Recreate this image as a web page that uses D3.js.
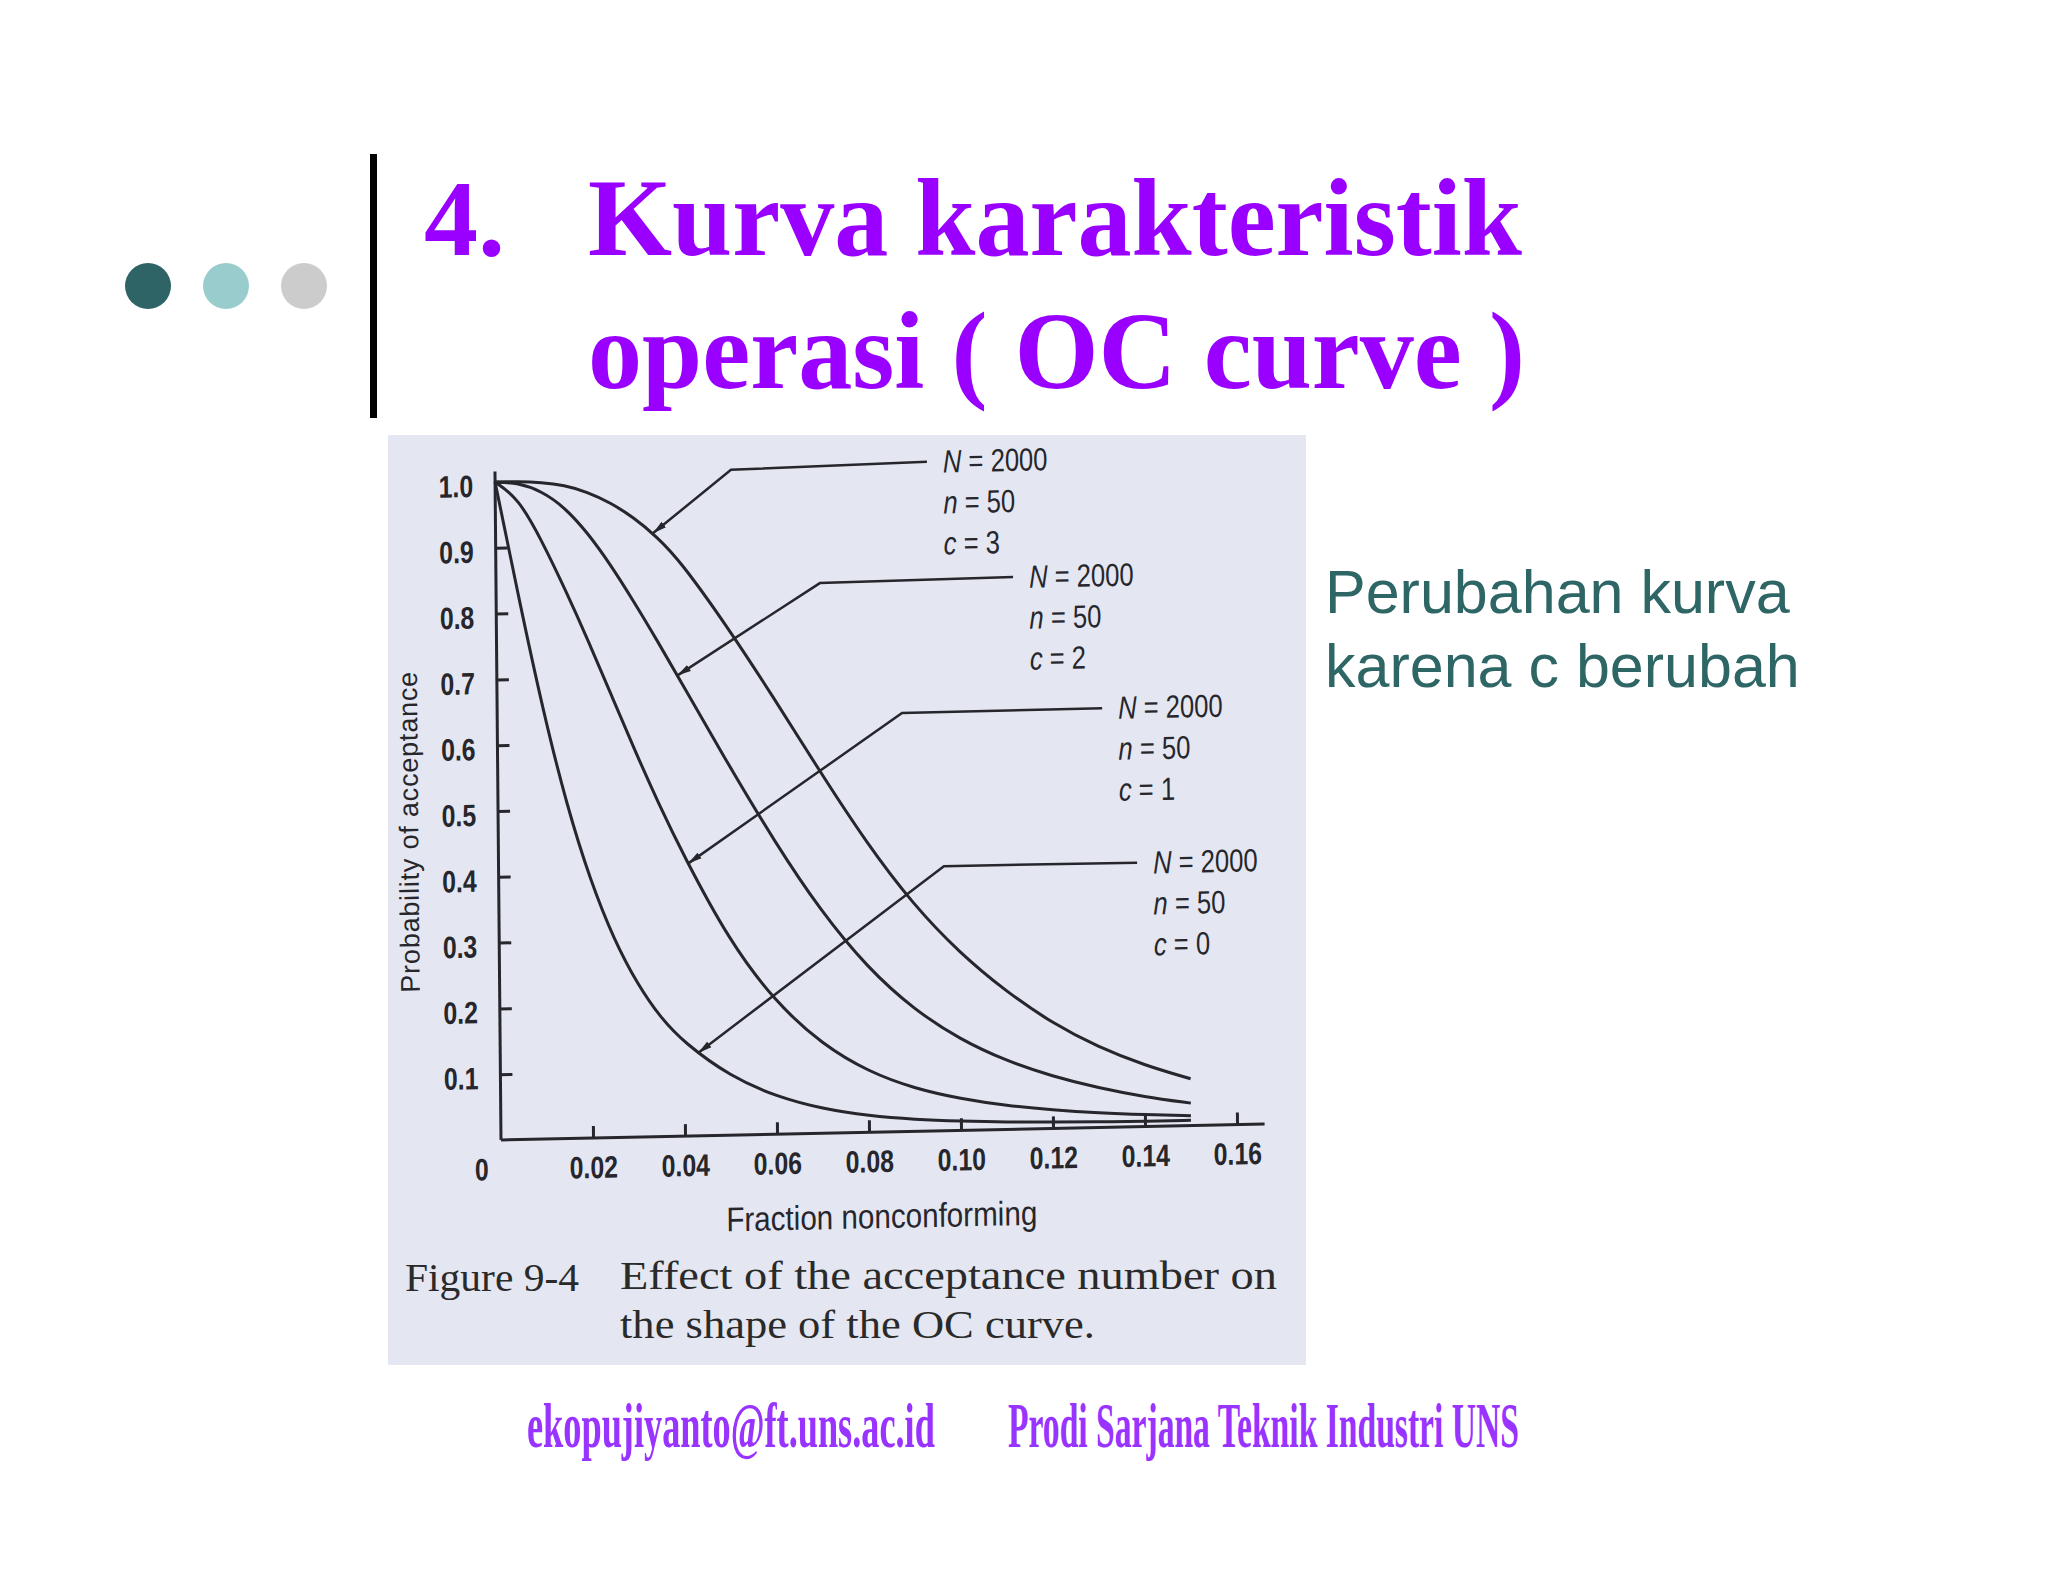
<!DOCTYPE html>
<html>
<head>
<meta charset="utf-8">
<title>Kurva karakteristik operasi</title>
<script src="https://d3js.org/d3.v7.min.js"></script>
<style>
  body { margin: 0; background: #fff; }
</style>
</head>
<body>
<script>
// fraction nonconforming where the curves were read
var pValues = [0, 0.005, 0.01, 0.015, 0.02, 0.025, 0.03, 0.035, 0.04, 0.05, 0.06, 0.07, 0.08, 0.09, 0.10, 0.11, 0.12, 0.13, 0.14, 0.15];
// probability of acceptance, N = 2000, n = 50
var paC0 = [1.0, 0.82, 0.65, 0.505, 0.39, 0.30, 0.232, 0.18, 0.142, 0.089, 0.057, 0.037, 0.025, 0.018, 0.014, 0.011, 0.0095, 0.0085, 0.008, 0.008];
var paC1 = [1.0, 0.975, 0.91, 0.835, 0.755, 0.67, 0.585, 0.505, 0.43, 0.295, 0.20, 0.135, 0.092, 0.065, 0.048, 0.036, 0.028, 0.022, 0.018, 0.015];
var paC2 = [1.0, 0.998, 0.985, 0.96, 0.92, 0.87, 0.813, 0.753, 0.691, 0.565, 0.445, 0.337, 0.25, 0.185, 0.138, 0.104, 0.079, 0.06, 0.045, 0.034];
var paC3 = [1.0, 1.0, 0.998, 0.993, 0.982, 0.965, 0.942, 0.912, 0.875, 0.775, 0.665, 0.55, 0.44, 0.345, 0.27, 0.21, 0.16, 0.122, 0.093, 0.071];

var acceptNumbers = ["0", "1", "2", "3"];
var lotSize = "2000";
var sampleSize = "50";

var xTicks = [0, 0.02, 0.04, 0.06, 0.08, 0.10, 0.12, 0.14, 0.16];
var yTicks = [0.1, 0.2, 0.3, 0.4, 0.5, 0.6, 0.7, 0.8, 0.9, 1.0];

// label leaders (data units): arrow tip on curve, elbow, end of horizontal part
var leaderTips   = [[0.0430, 0.126], [0.0412, 0.414], [0.0392, 0.700], [0.0342, 0.917]];
var leaderElbows = [[0.0968, 0.402], [0.0880, 0.636], [0.0704, 0.836], [0.0513, 1.011]];
var leaderEnds   = [[0.1388, 0.401], [0.1315, 0.637], [0.1124, 0.839], [0.0939, 1.017]];

var W = 2048, H = 1582;
var ink = "#26262c";
var sans = "'Liberation Sans', Arial, sans-serif";
var serif = "'Liberation Serif', 'Times New Roman', serif";

var svg = d3.select("body").append("svg").attr("width", W).attr("height", H);

// write a text and squeeze it horizontally to a given width
function fitText(parent, str, x, y, width, font, size, fill, weight, anchor) {
  var t = parent.append("text").text(str)
    .attr("font-family", font).attr("font-size", size).attr("fill", fill)
    .attr("font-weight", weight || "normal").attr("text-anchor", anchor || "start");
  var s = width / t.node().getComputedTextLength();
  t.attr("transform", "translate(" + x + "," + y + ") scale(" + s + ",1)");
  return t;
}

// ---- slide decoration ----
var dotColors = ["#2f6466", "#99cccc", "#cccccc"];
svg.selectAll("circle.dot").data(dotColors).enter().append("circle")
  .attr("class", "dot")
  .attr("cx", function(d, i) { return 148 + i * 78; })
  .attr("cy", 286).attr("r", 23)
  .attr("fill", function(d) { return d; });

svg.append("rect").attr("x", 370).attr("y", 154).attr("width", 7).attr("height", 264).attr("fill", "#000");

svg.append("text").attr("x", 424).attr("y", 255).text("4.")
  .attr("font-family", serif).attr("font-weight", "bold").attr("font-size", 108).attr("fill", "#9900ff");
fitText(svg, "Kurva karakteristik", 588, 255, 934, serif, 110, "#9900ff", "bold");
fitText(svg, "operasi ( OC curve )", 588, 388, 937, serif, 110, "#9900ff", "bold");

svg.append("text").attr("x", 1325).attr("y", 613).text("Perubahan kurva")
  .attr("font-family", sans).attr("font-size", 61).attr("fill", "#2e6666");
svg.append("text").attr("x", 1325).attr("y", 687).text("karena c berubah")
  .attr("font-family", sans).attr("font-size", 61).attr("fill", "#2e6666");

fitText(svg, "ekopujiyanto@ft.uns.ac.id", 527, 1447, 408, serif, 64, "#9933ff", "bold");
fitText(svg, "Prodi Sarjana Teknik Industri UNS", 1008, 1447, 511, serif, 64, "#9933ff", "bold");

// ---- scanned figure panel (the photographed page is slightly skewed) ----
svg.append("rect").attr("x", 388).attr("y", 435).attr("width", 918).attr("height", 930).attr("fill", "#e4e7f1");

var fig = svg.append("g").attr("transform", "matrix(1,-0.021,0.009,1,501,1140)");

var x = d3.scaleLinear().domain([0, 0.16]).range([0, 736]);
var y = d3.scaleLinear().domain([0, 1]).range([0, -658]);

var xAxis = d3.axisBottom(x).tickValues(xTicks).tickSize(-12).tickSizeOuter(0).tickPadding(18)
  .tickFormat(function(d) { return d === 0 ? "0" : d3.format(".2f")(d); });
var yAxis = d3.axisLeft(y).tickValues(yTicks).tickSize(-12).tickSizeOuter(0).tickPadding(22)
  .tickFormat(d3.format(".1f"));

var xAxisG = fig.append("g").call(xAxis);
var yAxisG = fig.append("g").call(yAxis);

xAxisG.select(".domain").remove();
yAxisG.select(".domain").remove();
fig.append("line").attr("x1", x(0)).attr("x2", x(0.166)).attr("y1", y(0)).attr("y2", y(0))
  .attr("stroke", ink).attr("stroke-width", 3);
fig.append("line").attr("x1", x(0)).attr("x2", x(0)).attr("y1", y(0)).attr("y2", y(1.016))
  .attr("stroke", ink).attr("stroke-width", 3);

xAxisG.selectAll(".tick line").attr("stroke", ink).attr("stroke-width", 3)
  .filter(function(d) { return d === 0; }).remove();
yAxisG.selectAll(".tick line").attr("stroke", ink).attr("stroke-width", 3);

var tickSqueeze = 0.8;
xAxisG.selectAll(".tick text")
  .attr("font-family", sans).attr("font-size", 31).attr("fill", ink).attr("font-weight", "bold")
  .attr("dy", "0.71em")
  .attr("x", function(d) { return d === 0 ? -20 / tickSqueeze : 0; })
  .attr("transform", "scale(" + tickSqueeze + ",1)");
yAxisG.selectAll(".tick text")
  .attr("font-family", sans).attr("font-size", 31).attr("fill", ink).attr("font-weight", "bold")
  .attr("dy", "0.45em")
  .attr("x", -22 / tickSqueeze)
  .attr("transform", "scale(" + tickSqueeze + ",1)");

fitText(fig, "Fraction nonconforming", 380, 96, 311, sans, 34, ink, "normal", "middle");

fig.append("text").attr("transform", "translate(-80,-310) rotate(-90)").attr("text-anchor", "middle")
  .text("Probability of acceptance")
  .attr("font-family", sans).attr("font-size", 27).attr("fill", ink)
  .attr("letter-spacing", 0.8);

// ---- OC curves ----
var series = [paC0, paC1, paC2, paC3];
var line = d3.line()
  .x(function(d) { return x(d[0]); })
  .y(function(d) { return y(d[1]); })
  .curve(d3.curveBasis);

fig.append("g").selectAll("path.oc").data(series).enter().append("path")
  .attr("class", "oc")
  .attr("d", function(vals) { return line(pValues.map(function(p, i) { return [p, vals[i]]; })); })
  .attr("fill", "none").attr("stroke", ink).attr("stroke-width", 3);

// ---- leaders and plan labels ----
svg.append("defs").append("marker")
  .attr("id", "arrow").attr("markerUnits", "userSpaceOnUse")
  .attr("viewBox", "0 -4 14 8").attr("refX", 14).attr("refY", 0)
  .attr("markerWidth", 14).attr("markerHeight", 8).attr("orient", "auto")
  .append("path").attr("d", "M0,-3.5L14,0L0,3.5Z").attr("fill", ink);

var leaders = fig.append("g").selectAll("g").data(acceptNumbers).enter().append("g");

leaders.append("path")
  .attr("d", function(d, i) {
    return "M" + x(leaderEnds[i][0]) + "," + y(leaderEnds[i][1]) +
           "L" + x(leaderElbows[i][0]) + "," + y(leaderElbows[i][1]) +
           "L" + x(leaderTips[i][0]) + "," + y(leaderTips[i][1]);
  })
  .attr("fill", "none").attr("stroke", ink).attr("stroke-width", 2.5)
  .attr("marker-end", "url(#arrow)");

var labelSqueeze = 0.8;
var labels = leaders.append("text")
  .attr("font-family", sans).attr("font-size", 32).attr("fill", ink)
  .attr("transform", function(d, i) {
    return "translate(" + (x(leaderEnds[i][0]) + 16) + "," + (y(leaderEnds[i][1]) + 11) + ") scale(" + labelSqueeze + ",1)";
  });

labels.each(function(c) {
  var t = d3.select(this);
  var rows = [["N", " = " + lotSize], ["n", " = " + sampleSize], ["c", " = " + c]];
  rows.forEach(function(r, k) {
    t.append("tspan").attr("x", 0).attr("y", k * 41).attr("font-style", "italic").text(r[0]);
    t.append("tspan").text(r[1]);
  });
});

// ---- caption ----
fitText(svg, "Figure 9-4", 405, 1291, 174, serif, 40, "#2a2a2a");
fitText(svg, "Effect of the acceptance number on", 620, 1289, 657, serif, 40, "#2a2a2a");
fitText(svg, "the shape of the OC curve.", 620, 1338, 475, serif, 40, "#2a2a2a");
</script>
</body>
</html>
